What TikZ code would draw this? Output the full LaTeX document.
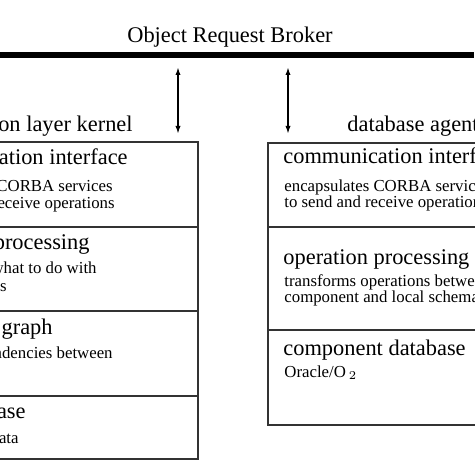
\documentclass[tikz,border=0pt]{standalone}
\usepackage{fontspec}
\setmainfont{Liberation Serif}
\usetikzlibrary{arrows.meta}

\begin{document}
\begin{tikzpicture}[x=0.5pt, y=-0.5pt, >={Latex[length=4pt, width=2.6pt]},
		title/.style={font=\fontsize{11.2}{13}\selectfont, inner sep=0pt},
		note/.style={font=\fontsize{8.4}{10}\selectfont, inner sep=0pt},
		frame/.style={draw=black!80, line width=0.75pt}]
		\useasboundingbox (0,0) rectangle (474,474);
		% object request broker
		\draw [line width=3pt] (0,55) -- (474,55);
		\node[title, anchor=base] (orb) at (230,43) {Object Request Broker};
		% the two components and their links to the broker
		\coordinate (busk) at (178,67);
		\coordinate (kernel) at (178,134);
		\coordinate (busa) at (288,67);
		\coordinate (agent) at (288,134);
		\draw [<->, line width=1pt] (busk) -- (kernel);
		\draw [<->, line width=1pt] (busa) -- (agent);
		\node[title, anchor=base east] (kname) at (133,132) {federation layer kernel};
		\node[title, anchor=base west] (aname) at (347,132) {database agent};
		% kernel
		\draw [frame] (-130,142) rectangle (198,459);
		\foreach \y in {227,311,396}
			\draw [frame] (-130,\y) -- (198,\y);
		\node[title, anchor=base east] (kc) at (128,165) {communication interface};
		\node[note, anchor=base east] (kc1) at (113,192) {encapsulates CORBA services};
		\node[note, anchor=base east] (kc2) at (115,209) {to send and receive operations};
		\node[title, anchor=base east] (kp) at (90,250) {operation processing};
		\node[note, anchor=base east] (kp1) at (97,274) {decides what to do with};
		\node[note, anchor=base east] (kp2) at (7,292) {operations};
		\node[title, anchor=base east] (kg) at (53,334) {dependency graph};
		\node[note, anchor=base east] (kg1) at (113,358) {stores dependencies between};
		\node[title, anchor=base east] (kd) at (26,418) {database};
		\node[note, anchor=base east] (kd1) at (19,443) {data};
		% database agent
		\draw [frame] (268,143) rectangle (600,425);
		\foreach \y in {227,330}
			\draw [frame] (268,\y) -- (600,\y);
		\node[title, anchor=base west] (ac) at (283,164) {communication interface};
		\node[note, anchor=base west] (ac1) at (284,192) {encapsulates CORBA services};
		\node[note, anchor=base west] (ac2) at (284,208) {to send and receive operations};
		\node[title, anchor=base west] (ap) at (283,265) {operation processing};
		\node[note, anchor=base west] (ap1) at (284,286) {transforms operations between};
		\node[note, anchor=base west] (ap2) at (284,303) {component and local schemas};
		\node[title, anchor=base west] (ad) at (283,355) {component database};
		\node[note, anchor=base west] (ad1) at (284,377) {Oracle/O\,$_2$};
	\end{tikzpicture}
\end{document}
